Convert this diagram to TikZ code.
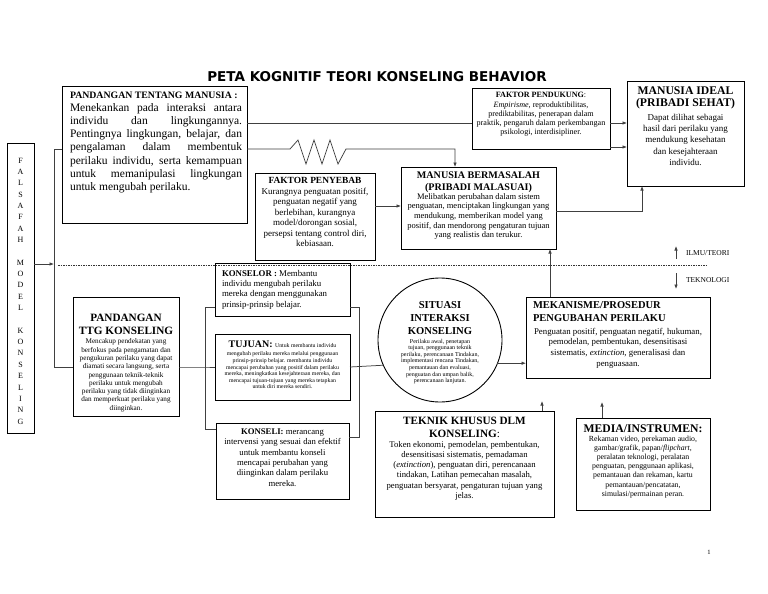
\documentclass[tikz,border=0pt]{standalone}
\usepackage{fontspec}
\setmainfont{Liberation Serif}
\newfontfamily\titlefont{DejaVu Sans}
\usetikzlibrary{arrows.meta,calc}
\newcommand\fs[2]{\fontsize{#1}{#2}\selectfont}
\begin{document}
\begin{tikzpicture}[x=1pt,y=-1pt,
 box/.style={draw=black,line width=0.9pt,inner sep=0pt,outer sep=0pt,anchor=north west},
 conn/.style={draw=black!75,line width=0.75pt},
 arr/.style={conn,-{Latex[length=4.5pt,width=3.6pt]}},
 txt/.style={inner sep=0pt,outer sep=0pt,anchor=base},
 txtl/.style={inner sep=0pt,outer sep=0pt,anchor=base west}]
\path[fill=white,use as bounding box] (0,0) rectangle (768,594);

% title
\node[inner sep=0pt] (title) at (377,77) {\titlefont\bfseries\fs{13.5}{16}PETA KOGNITIF TEORI KONSELING BEHAVIOR};

% boxes
\node[box,minimum width=185pt,minimum height=137pt] (ptm) at (62,86) {};
\node[box,minimum width=138pt,minimum height=61pt] (fp) at (472,88) {};
\node[box,minimum width=117pt,minimum height=105pt] (mi) at (627,81) {};
\node[box,minimum width=120pt,minimum height=87pt] (fpy) at (255,173) {};
\node[box,minimum width=155pt,minimum height=82pt] (mb) at (401,167) {};
\node[box,minimum width=27pt,minimum height=290pt] (fal) at (7,143) {};
\node[box,minimum width=106pt,minimum height=119pt] (pttg) at (73,297) {};
\node[box,minimum width=135pt,minimum height=53pt] (kslr) at (215,263) {};
\node[box,minimum width=135pt,minimum height=66pt] (tuj) at (215,334) {};
\node[box,minimum width=133pt,minimum height=76pt] (ksli) at (216,423) {};
\node[draw=black,line width=0.9pt,circle,inner sep=0pt,outer sep=0pt,minimum size=124pt] (sit) at (440,340) {};
\node[box,minimum width=184pt,minimum height=81pt] (mek) at (526,297) {};
\node[box,minimum width=179pt,minimum height=106pt] (tek) at (375,411) {};
\node[box,minimum width=134pt,minimum height=92pt] (med) at (576,418) {};

% texts
\node[txtl] (ptmT) at (70,98.8) {\fs{9.8}{12}\bfseries PANDANGAN TENTANG MANUSIA :};
\node[txtl] (ptmB) at (70,111) {\parbox[t]{172pt}{\fs{11.5}{13.3}Menekankan pada interaksi antara\linebreak individu dan lingkungannya.\linebreak Pentingnya lingkungan, belajar, dan\linebreak pengalaman dalam membentuk\linebreak perilaku individu, serta kemampuan\linebreak untuk memanipulasi lingkungan\linebreak untuk mengubah perilaku.}};

\node[txt] (fpT) at (541,97.6) {\fs{8.1}{9.5}\textbf{FAKTOR PENDUKUNG}:};
\node[txt] (fpB) at (541,107) {\parbox[t]{134pt}{\centering\fs{8.1}{9}\textit{Empirisme}, reproduktibilitas,\\prediktabilitas, penerapan dalam\\praktik, pengaruh dalam perkembangan\\psikologi, interdisipliner.}};

\node[txt] (miT) at (685.5,94) {\parbox[t]{113pt}{\centering\fs{11.7}{12}\bfseries MANUSIA IDEAL\\(PRIBADI SEHAT)}};
\node[txt] (miB) at (685.5,120.3) {\parbox[t]{113pt}{\centering\fs{9}{11.25}Dapat dilihat sebagai\\hasil dari perilaku yang\\mendukung kesehatan\\dan kesejahteraan\\individu.}};

\node[txt] (fpyT) at (315,183) {\fs{9.4}{11}\bfseries FAKTOR PENYEBAB};
\node[txt] (fpyB) at (315,194) {\parbox[t]{116pt}{\centering\fs{9}{10.5}Kurangnya penguatan positif,\\penguatan negatif yang\\berlebihan, kurangnya\\model/dorongan sosial,\\persepsi tentang control diri,\\kebiasaan.}};

\node[txt] (mbT) at (478.5,178.3) {\parbox[t]{151pt}{\centering\fs{10.1}{12}\bfseries MANUSIA BERMASALAH\\(PRIBADI MALASUAI)}};
\node[txt] (mbB) at (478.5,199) {\parbox[t]{151pt}{\centering\fs{8.5}{9.7}Melibatkan perubahan dalam sistem\\penguatan, menciptakan lingkungan yang\\mendukung, memberikan model yang\\positif, dan mendorong pengaturan tujuan\\yang realistis dan terukur.}};

\node[txt] (falT) at (20.5,163) {\parbox[t]{20pt}{\centering\fs{8}{11.35}F\\A\\L\\S\\A\\F\\A\\H\\\mbox{}\\M\\O\\D\\E\\L\\\mbox{}\\K\\O\\N\\S\\E\\L\\I\\N\\G}};

\node[txt] (pttgT) at (126,321.8) {\parbox[t]{102pt}{\centering\fs{11.2}{12.3}\bfseries PANDANGAN\\TTG KONSELING}};
\node[txt] (pttgB) at (126,343.8) {\parbox[t]{102pt}{\centering\fs{7.2}{8.3}Mencakup pendekatan yang\\berfokus pada pengamatan dan\\pengukuran perilaku yang dapat\\diamati secara langsung, serta\\penggunaan teknik-teknik\\perilaku untuk mengubah\\perilaku yang tidak diinginkan\\dan memperkuat perilaku yang\\diinginkan.}};

\node[txtl] (kslrT) at (222,276) {\parbox[t]{126pt}{\raggedright\fs{8.8}{10.4}\textbf{KONSELOR :} Membantu\\individu mengubah perilaku\\mereka dengan menggunakan\\prinsip-prinsip belajar.}};

\node[txt] (tujT) at (282.5,347.5) {\fs{10}{12}\textbf{TUJUAN:} \fs{5.8}{6.7}Untuk membantu individu};
\node[txt] (tujB) at (282.5,355.8) {\parbox[t]{131pt}{\centering\fs{5.8}{6.6}mengubah perilaku mereka melalui penggunaan\\prinsip-prinsip belajar. membantu individu\\mencapai perubahan yang positif dalam perilaku\\mereka, meningkatkan kesejahteraan mereka, dan\\mencapai tujuan-tujuan yang mereka tetapkan\\untuk diri mereka sendiri.}};

\node[txt] (ksliT) at (282.5,434.5) {\parbox[t]{129pt}{\centering\fs{8.7}{10.3}\textbf{KONSELI:} merancang\\intervensi yang sesuai dan efektif\\untuk membantu konseli\\mencapai perubahan yang\\diinginkan dalam perilaku\\mereka.}};

\node[txt] (sitT) at (440,308.5) {\parbox[t]{100pt}{\centering\fs{10.6}{13}\bfseries SITUASI\\INTERAKSI\\KONSELING}};
\node[txt] (sitB) at (440,343) {\parbox[t]{104pt}{\centering\fs{6}{6.6}Perilaku awal, penetapan\\tujuan, penggunaan teknik\\perilaku, perencanaan Tindakan,\\implementasi rencana Tindakan,\\pemantauan dan evaluasi,\\penguatan dan umpan balik,\\perencanaan lanjutan.}};

\node[txtl] (mekT) at (533,308.5) {\parbox[t]{175pt}{\raggedright\fs{10.5}{13}\bfseries MEKANISME/PROSEDUR\\PENGUBAHAN PERILAKU}};
\node[txt] (mekB) at (618,334.2) {\parbox[t]{180pt}{\centering\fs{8.8}{10.7}Penguatan positif, penguatan negatif, hukuman,\\pemodelan, pembentukan, desensitisasi\\sistematis, \textit{extinction}, generalisasi dan\\penguasaan.}};

\node[txt] (tekT) at (464.5,424) {\parbox[t]{175pt}{\centering\fs{11.2}{13}\textbf{TEKNIK KHUSUS DLM}\\\textbf{KONSELING}:}};
\node[txt] (tekB) at (464.5,447) {\parbox[t]{175pt}{\centering\fs{8.7}{10.3}Token ekonomi, pemodelan, pembentukan,\\desensitisasi sistematis, pemadaman\\(\textit{extinction}), penguatan diri, perencanaan\\tindakan, Latihan pemecahan masalah,\\penguatan bersyarat, pengaturan tujuan yang\\jelas.}};

\node[txt] (medT) at (643,432) {\fs{11.7}{13}\bfseries MEDIA/INSTRUMEN:};
\node[txt] (medB) at (643,441.5) {\parbox[t]{132pt}{\centering\fs{7.8}{9.1}Rekaman video, perekaman audio,\\gambar/grafik, papan/\textit{flipchart},\\peralatan teknologi, peralatan\\penguatan, penggunaan aplikasi,\\pemantauan dan rekaman, kartu\\pemantauan/pencatatan,\\simulasi/permainan peran.}};

\node[txtl] (ilmu) at (686,255.5) {\fs{7.5}{9}ILMU/TEORI};
\node[txtl] (tekno) at (686,282) {\fs{7.5}{9}TEKNOLOGI};
\node[txt] (pg) at (709,554) {\fs{6.5}{8}1};

% helper coordinates
\coordinate (yA) at (0,123);
\coordinate (yB) at (0,149);
\coordinate (yC) at (0,147);
\coordinate (yD) at (0,211);
\coordinate (yE) at (0,206);
\coordinate (yF) at (0,264);
\coordinate (yG) at (0,367);
\coordinate (yH) at (0,307);
\coordinate (yI) at (0,429);
\coordinate (yJ) at (0,437);
\coordinate (xL) at (54,0);
\coordinate (xZ) at (205,0);
\coordinate (xR) at (359,0);
\coordinate (xM) at (455,0);
\coordinate (xI) at (642,0);
\coordinate (xK) at (550,0);
\coordinate (xT) at (542,0);
\coordinate (xQ) at (602,0);
\coordinate (sitR) at (sit.-22.8);
\coordinate (sitL) at (sit.204.8);
\coordinate (falin) at (xL |- yF);
\coordinate (tekTip) at (542,401);
\coordinate (medTip) at (602,402);
\coordinate (ilmuA) at (676,259);
\coordinate (ilmuB) at (676,246);
\coordinate (teknoA) at (676,273);
\coordinate (teknoB) at (676,289);
\coordinate (dashL) at (58,265);
\coordinate (dashR) at (707,265);

% connectors
\draw[conn] (ptm.east |- yA) -- (fp.west |- yA);
\draw[arr] (fp.east |- yA) -- (mi.west |- yA);
\draw[arr] (fp.east |- yC) -- (mi.west |- yC);
\draw[arr] (ptm.east |- yB) -- (290,149) -- (298,140) -- (306,164) -- (314,140) -- (322,164) -- (330,140) -- (338,164) -- (346,149) -- (xM |- yB) -- (xM |- mb.north);
\draw[arr] (fpy.east |- yE) -- (mb.west |- yE);
\draw[arr] (mb.east |- yD) -- (xI |- yD) -- (xI |- mi.south);
\draw[arr] (xK |- mek.north) -- (xK |- mb.south);
\draw[conn] (ptm.west |- yB) -- (xL |- yB) -- (xL |- yG) -- (pttg.west |- yG);
\draw[arr] (fal.east |- yF) -- (falin);
\draw[conn] (pttg.east |- yG) -- (xZ |- yG) -- (tuj.west |- yG);
\draw[conn] (kslr.west |- yH) -- (xZ |- yH) -- (xZ |- yI) -- (ksli.west |- yI);
\draw[conn] (kslr.east |- yH) -- (xR |- yH) -- (xR |- yJ) -- (ksli.east |- yJ);
\draw[conn] (tuj.east |- yG) -- (sitL);
\draw[arr] (sitR) -- (sitR -| mek.west);
\draw[arr] (xT |- tek.north) -- (tekTip);
\draw[arr] (xQ |- med.north) -- (medTip);
\draw[arr] (ilmuA) -- (ilmuB);
\draw[arr] (teknoA) -- (teknoB);
\draw[black!80,line width=0.6pt,dash pattern=on 1.5pt off 1pt] (dashL) -- (dashR);
\end{tikzpicture}
\end{document}
